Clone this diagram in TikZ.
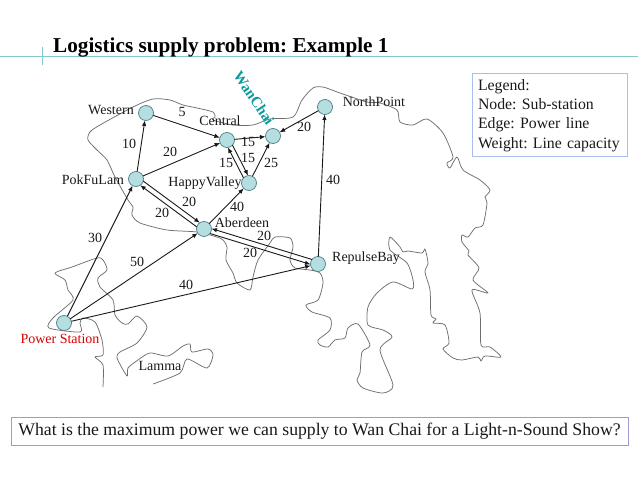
\documentclass[tikz,border=0pt]{standalone}
\usepackage{fontspec}
\setmainfont{Liberation Serif}
\usetikzlibrary{arrows.meta}
\frenchspacing
\definecolor{rulecol}{HTML}{84C8CF}
\definecolor{dotcol}{HTML}{B5DEE1}
\definecolor{dotline}{HTML}{4C7F85}
\definecolor{coastcol}{HTML}{6E6E6E}
\definecolor{legendcol}{HTML}{A9BEF0}
\definecolor{askcol}{HTML}{9C9CD0}
\definecolor{wancol}{HTML}{0E9A9A}
\begin{document}
\begin{tikzpicture}[
  x = 1pt,
  y = -1pt,
  dot/.style = {
    shape = circle,
    fill = dotcol,
    draw = dotline,
    line width = 0.7pt,
    minimum size = 15pt,
    inner sep = 0pt,
    outer sep = 0pt,
  },
  place/.style = {
    font = \fontsize{14}{16}\selectfont,
    inner sep = 0pt,
    text = black!90,
  },
  weight/.style = {
    font = \fontsize{14}{16}\selectfont,
    inner sep = 0pt,
    text = black!90,
  },
  arc/.style = {
    -{Latex[length = 5.5pt, width = 4.5pt]},
    line width = 0.9pt,
    draw = black!90,
  },
  coast/.style = {
    draw = coastcol,
    line width = 0.75pt,
    line join = round,
  }
]
  \useasboundingbox (0, 0) rectangle (638, 478);

  % title and rule
  \coordinate (ruleL) at (0, 57);
  \coordinate (ruleR) at (638, 57);
  \coordinate (tickT) at (42, 47);
  \coordinate (tickB) at (42, 65);
  \draw[rulecol, line width = 1pt] (ruleL) -- (ruleR);
  \draw[rulecol, line width = 1pt] (tickT) -- (tickB);
  \node[anchor = base west, inner sep = 0pt, font = \fontsize{21.2}{24}\selectfont\bfseries] (title) at (53, 53) {Logistics supply problem: Example 1};

  % coastlines
  \draw[coast] plot[smooth cycle, tension = 0.45] coordinates {
    (88,140) (90,132) (100,125) (133,107) (153,99) (170,100) (183,105) (197,108) (213,112) (215,117) (213,120)
    (233,125) (253,125) (270,119) (293,117) (302,100) (313,88) (323,87) (340,93) (367,102) (380,103) (397,110)
    (400,122) (413,125) (427,119) (443,133) (453,157) (447,163) (450,168) (457,157) (463,170) (480,180) (490,190)
    (485,197) (487,203) (483,225) (475,228) (468,237) (462,235) (462,242) (469,251) (468,255) (479,268) (473,280)
    (488,293) (472,290) (480,313) (481,345) (490,347) (501,357) (485,356) (481,361) (478,357) (462,360) (453,358)
    (443,349) (449,343) (445,325) (433,323) (436,319) (431,315) (430,290) (425,272) (428,263) (425,249) (422,253)
    (408,251) (403,252) (400,247) (390,237) (390,250) (407,263) (413,280) (412,289) (393,282) (377,293) (368,307)
    (368,325) (383,330) (392,337) (380,350) (393,385) (383,393) (363,388) (357,380) (360,373) (362,352) (370,345)
    (358,324) (348,328) (345,338) (335,340) (328,347) (320,345) (318,340) (330,330) (330,318) (312,312) (306,305)
    (318,300) (323,283) (320,273) (310,270) (295,268) (290,260) (293,247) (290,238) (275,237) (270,243) (258,260)
    (253,277) (250,290) (237,283) (233,273) (226,260) (227,247) (223,240) (217,237) (197,232) (167,230) (140,223)
    (132,215) (133,207) (128,200) (115,177) (107,160) (97,150)
  };
  \draw[coast] plot[smooth, tension = 0.45] coordinates {
    (103,387) (103,365) (95,357) (103,355) (102,340) (95,322) (83,318) (80,323) (80,332) (49,328) (53,318) (73,300)
    (68,290) (65,280) (55,273) (72,267) (97,258) (103,260) (107,270) (98,278) (100,287) (113,300) (115,315) (122,323)
    (128,324) (137,316) (147,327) (137,343) (120,352) (117,358) (127,376) (128,368) (138,360) (150,353) (168,356)
    (183,346) (190,344) (192,352) (208,349) (213,355) (207,368) (187,359) (180,373) (153,384)
  };

  % sub-stations
  \node[dot] (western) at (146, 113) {};
  \node[dot] (central) at (227, 140) {};
  \node[dot] (wanchai) at (273, 136) {};
  \node[dot] (northpoint) at (325, 107) {};
  \node[dot] (happyvalley) at (249, 183) {};
  \node[dot] (pokfulam) at (136, 179) {};
  \node[dot] (aberdeen) at (204, 229) {};
  \node[dot] (repulsebay) at (318, 264) {};
  \node[dot] (power) at (64, 323) {};

  % power lines
  \draw[arc] (power) -- (pokfulam);
  \draw[arc] (power) -- (aberdeen);
  \draw[arc] (power) -- (repulsebay);
  \draw[arc] (pokfulam) -- (western);
  \draw[arc] (pokfulam) -- (central);
  \draw[arc] (western) -- (central);
  \draw[arc] (central) -- (wanchai);
  \draw[arc] (northpoint) -- (wanchai);
  \draw[arc] (happyvalley) -- (wanchai);
  \draw[arc] (aberdeen) -- (happyvalley);
  \draw[arc] (repulsebay) -- (northpoint);
  \draw[arc] (central.-43) -- (happyvalley.97);
  \draw[arc] (happyvalley.137) -- (central.-83);
  \draw[arc] (pokfulam.-16) -- (aberdeen.124);
  \draw[arc] (aberdeen.164) -- (pokfulam.-56);
  \draw[arc] (aberdeen.-37) -- (repulsebay.183);
  \draw[arc] (repulsebay.143) -- (aberdeen.3);

  % place names
  \node[place] (lblwestern) at (111, 110) {Western};
  \node[place] (lblcentral) at (220, 121) {Central};
  \node[place] (lblpokfulam) at (93, 180) {PokFuLam};
  \node[place] (lblhappy) at (205, 183) {HappyValley};
  \node[place] (lblaberdeen) at (242, 223) {Aberdeen};
  \node[place] (lblnorth) at (374, 102) {NorthPoint};
  \node[place] (lblrepulse) at (366, 258) {RepulseBay};
  \node[place] (lbllamma) at (160, 366) {Lamma};
  \node[place, text = red!85!black] (lblpower) at (60, 339) {Power Station};
  \node[place, text = wancol, font = \fontsize{15}{16}\selectfont\bfseries, rotate = -56] (lblwan) at (254, 98) {WanChai};

  % capacities
  \node[weight] (w1) at (182, 112) {5};
  \node[weight] (w2) at (129, 144) {10};
  \node[weight] (w3) at (170, 152) {20};
  \node[weight] (w4) at (189, 202) {20};
  \node[weight] (w5) at (162, 213) {20};
  \node[weight] (w6) at (95, 238) {30};
  \node[weight] (w7) at (137, 262) {50};
  \node[weight] (w8) at (186, 285) {40};
  \node[weight] (w9) at (248, 142) {15};
  \node[weight] (w10) at (248, 158) {15};
  \node[weight] (w11) at (226, 163) {15};
  \node[weight] (w12) at (271, 163) {25};
  \node[weight] (w13) at (304, 127) {20};
  \node[weight] (w14) at (333, 180) {40};
  \node[weight] (w15) at (237, 207) {40};
  \node[weight] (w16) at (264, 236) {20};
  \node[weight] (w17) at (250, 253) {20};

  % legend and question
  \node[draw = legendcol, line width = 1pt, minimum width = 155pt, minimum height = 83pt, text width = 143pt, align = left, inner sep = 0pt, text = black!90, font = \fontsize{15.8}{19.2}\selectfont] (legend) at (549.5, 115.5) {Legend:\\Node: Sub-station\\Edge: Power line\\Weight: Line capacity};
  \node[draw = askcol, line width = 1pt, minimum width = 617pt, minimum height = 28pt, inner sep = 0pt, text = black!90, font = \fontsize{17.7}{20}\selectfont] (question) at (319.5, 431.5) {What is the maximum power we can supply to Wan Chai for a Light-n-Sound Show?};
\end{tikzpicture}
\end{document}
